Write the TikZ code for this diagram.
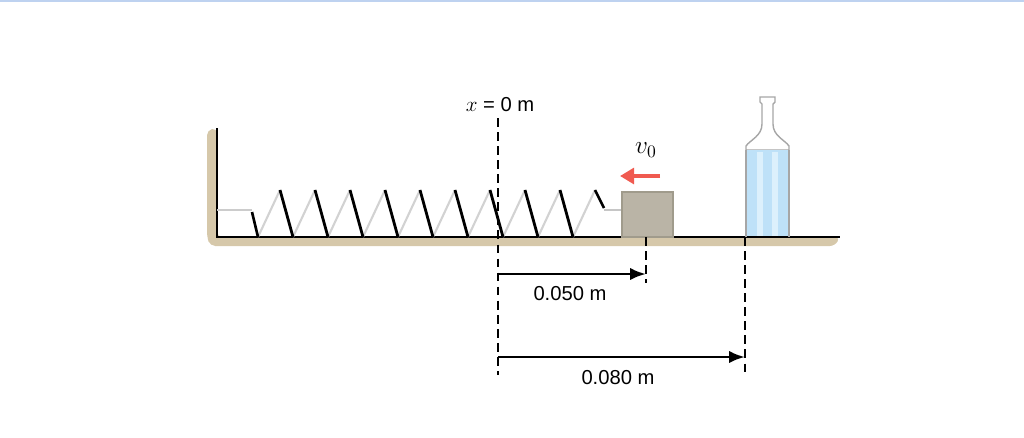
\documentclass[tikz,border=0pt]{standalone}
\usepackage{fontspec}
\setmainfont{Liberation Sans}
\usetikzlibrary{arrows.meta}
\definecolor{topline}{RGB}{190,210,240}
\definecolor{tan}{RGB}{214,200,170}
\definecolor{blkedge}{RGB}{160,155,140}
\definecolor{blkfill}{RGB}{186,180,166}
\definecolor{redarr}{RGB}{240,90,80}
\definecolor{water}{RGB}{190,225,248}
\definecolor{waterhi}{RGB}{220,240,252}
\begin{document}
\begin{tikzpicture}[x=0.02cm,y=-0.02cm,
  dim/.style={-{Latex[length=9pt,width=7pt]},line width=1.6pt},
  dsh/.style={dash pattern=on 5pt off 3pt,line width=0.6pt},
  lbl/.style={font=\fontsize{11.5}{13}\selectfont}]
\useasboundingbox (0,0) rectangle (1024,437);
\draw[topline,line width=1pt] (0,1)--(1024,1);
% floor and wall
\fill[tan,rounded corners=3pt] (207,237) -- (207,130) -- (217,128) -- (217,237) -- (840,237) -- (835,246) -- (210,246) -- cycle;
\draw[line width=0.9pt] (217,128) -- (217,237) -- (840,237);
% spring
\draw[gray!40,line width=1pt] (217,210) -- (252,210);
\foreach \i in {0,...,9}{
  \pgfmathsetmacro\xa{258+35*\i}
  \draw[gray!35,line width=1.2pt] (\xa,237) -- (\xa+22,190);
}
\draw[line width=1.5pt] (252,212) -- (258,237);
\foreach \i in {0,...,8}{
  \pgfmathsetmacro\xa{280+35*\i}
  \draw[line width=1.6pt] (\xa,190) -- (\xa+13,237);
}
\draw[line width=1.5pt] (595,190) -- (604,208);
\draw[gray!45,line width=1pt] (604,210) -- (622,210);
% block
\node[draw=blkedge,fill=blkfill,minimum width=1.02cm,minimum height=0.9cm,inner sep=0,line width=1pt] (blk) at (647.5,214.5) {};
\draw[redarr,line width=2.5pt,-{Triangle[length=8pt,width=9pt]}] (660,176) -- (620,176);
\node[font=\fontsize{14}{16}\selectfont] (v) at (646,150) {$v_0$};
% bottle
\draw[gray!70,line width=0.8pt,fill=white] (746,150) -- (746,146) .. controls (750,140) and (762,136) .. (762,124) -- (762,104) -- (760,102) -- (760,97) -- (775,97) -- (775,102) -- (773,104) -- (773,124) .. controls (773,136) and (785,140) .. (789,146) -- (789,150) -- cycle;
\fill[water] (746,150) rectangle (789,236);
\fill[waterhi] (757,152) rectangle (763,236);
\fill[waterhi] (772,152) rectangle (778,236);
\draw[gray!70,line width=0.8pt] (746,150) -- (746,237) (789,150) -- (789,237);
% dashed lines
\coordinate (z0) at (498,118); \coordinate (z1) at (498,375);
\coordinate (b0) at (646,237); \coordinate (b1) at (646,283);
\coordinate (c0) at (745,237); \coordinate (c1) at (745,375);
\draw[dsh] (z0) -- (z1); \draw[dsh] (b0) -- (b1); \draw[dsh] (c0) -- (c1);
\node[lbl] (x0) at (500,105) {$x$ = 0 m};
\coordinate (a0) at (498,274); \coordinate (a1) at (646,274);
\coordinate (d0) at (498,357); \coordinate (d1) at (745,357);
\draw[dim] (a0) -- (a1); \draw[dim] (d0) -- (d1);
\node[lbl] (l1) at (570,294) {0.050 m};
\node[lbl] (l2) at (618,378) {0.080 m};
\end{tikzpicture}
\end{document}
